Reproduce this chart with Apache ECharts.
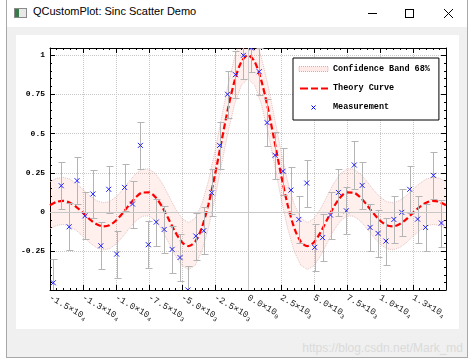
<!DOCTYPE html>
<html><head><meta charset="utf-8">
<script src="https://cdn.jsdelivr.net/npm/echarts@6/dist/echarts.min.js"></script>
<style>
html,body{margin:0;padding:0;width:474px;height:364px;overflow:hidden;background:#fff;}
#win{position:absolute;left:6px;top:0;width:462px;height:358px;box-sizing:border-box;border:1px solid #a8a8a8;border-top:none;background:#f0f0f0;}
#titlebar{position:absolute;left:0;top:0;width:460px;height:27px;background:#fff;}
#title{position:absolute;left:26px;top:5px;font:11px "Liberation Sans",Arial,sans-serif;color:#000;white-space:nowrap;}
#icon{position:absolute;left:7px;top:8px;width:11px;height:8px;border:1px solid #8a8a8a;background:linear-gradient(90deg,#3a7a4a 0,#3a7a4a 35%,#e8e8e8 35%,#e8e8e8 100%);}
#panel{position:absolute;left:16px;top:35px;width:443px;height:294px;background:#fff;}
#chart{position:absolute;left:0;top:0;width:443px;height:294px;}
#wm{position:absolute;right:4px;top:341px;font:12px "Liberation Sans",Arial,sans-serif;color:#dadada;white-space:nowrap;}
svg{position:absolute;}
</style></head>
<body>
<div id="win">
  <div id="titlebar">
    <div id="icon"></div>
    <div id="title">QCustomPlot: Sinc Scatter Demo</div>
    <svg style="left:360px;top:8px" width="12" height="12"><line x1="1" y1="5.5" x2="10" y2="5.5" stroke="#000" stroke-width="1"/></svg>
    <svg style="left:397px;top:8px" width="12" height="12"><rect x="1.5" y="1.5" width="8" height="8" fill="none" stroke="#000" stroke-width="1"/></svg>
    <svg style="left:436px;top:8px" width="12" height="12"><line x1="1" y1="1" x2="10" y2="10" stroke="#000"/><line x1="10" y1="1" x2="1" y2="10" stroke="#000"/></svg>
  </div>
  <div id="wm">https://blog.csdn.net/Mark_md</div>
</div>
<div id="panel"><div id="chart"></div></div>
<script>
// ---- axis ticks / labels ----
const xTickMant = ['-1.5','-1.3','-1.0','-7.5','-5.0','-2.5','0.0','2.5','5.0','7.5','1.0','1.3','1.5'];
const xTickExp  = ['4','4','4','3','3','3','0','3','3','3','4','4','4'];
const yTicks = [-0.25, 0, 0.25, 0.5, 0.75, 1];
const yTickLabels = ['-0.25','0','0.25','0.5','0.75','1'];
const yMinorTicks = [-0.45,-0.4,-0.35,-0.3,-0.2,-0.15,-0.1,-0.05,0.05,0.1,0.15,0.2,0.3,0.35,0.4,0.45,0.55,0.6,0.65,0.7,0.8,0.85,0.9,0.95];

// ---- theory curve and confidence band ----
const xCurve = [-15000,-14500,-14000,-13500,-13000,-12500,-12000,-11500,-11000,-10500,-10000,-9500,-9000,-8500,-8000,-7500,-7000,-6500,-6000,-5500,-5000,-4500,-4000,-3500,-3000,-2500,-2000,-1500,-1000,-500,0,500,1000,1500,2000,2500,3000,3500,4000,4500,5000,5500,6000,6500,7000,7500,8000,8500,9000,9500,10000,10500,11000,11500,12000,12500,13000,13500,14000,14500,15000];
const yCurve = [0.043,0.065,0.071,0.060,0.032,-0.005,-0.045,-0.076,-0.091,-0.084,-0.054,-0.008,0.046,0.094,0.124,0.125,0.094,0.033,-0.047,-0.128,-0.192,-0.217,-0.189,-0.100,0.047,0.239,0.455,0.665,0.841,0.959,1.000,0.959,0.841,0.665,0.455,0.239,0.047,-0.100,-0.189,-0.217,-0.192,-0.128,-0.047,0.033,0.094,0.125,0.124,0.094,0.046,-0.008,-0.054,-0.084,-0.091,-0.076,-0.045,-0.005,0.032,0.060,0.071,0.065,0.043];
const bandUpper = [0.193,0.215,0.221,0.210,0.182,0.145,0.105,0.074,0.059,0.066,0.096,0.142,0.196,0.244,0.274,0.275,0.244,0.183,0.103,0.022,-0.042,-0.067,-0.039,0.050,0.197,0.389,0.605,0.815,0.991,1.109,1.150,1.109,0.991,0.815,0.605,0.389,0.197,0.050,-0.039,-0.067,-0.042,0.022,0.103,0.183,0.244,0.275,0.274,0.244,0.196,0.142,0.096,0.066,0.059,0.074,0.105,0.145,0.182,0.210,0.221,0.215,0.193];
const bandLower = [-0.107,-0.085,-0.079,-0.090,-0.118,-0.155,-0.195,-0.226,-0.241,-0.234,-0.204,-0.158,-0.104,-0.056,-0.026,-0.025,-0.056,-0.117,-0.197,-0.278,-0.342,-0.367,-0.339,-0.250,-0.103,0.089,0.305,0.515,0.691,0.809,0.850,0.809,0.691,0.515,0.305,0.089,-0.103,-0.250,-0.339,-0.367,-0.342,-0.278,-0.197,-0.117,-0.056,-0.025,-0.026,-0.056,-0.104,-0.158,-0.204,-0.234,-0.241,-0.226,-0.195,-0.155,-0.118,-0.090,-0.079,-0.085,-0.107];

// ---- measurements ----
const xMeas = [-14750,-14150,-13550,-12950,-12350,-11750,-11150,-10550,-9950,-9350,-8750,-8150,-7550,-6950,-6350,-5750,-5150,-4550,-3950,-3350,-2750,-2150,-1550,-950,-350,250,850,1450,2050,2650,3250,3850,4450,5050,5650,6250,6850,7450,8050,8650,9250,9850,10450,11050,11650,12250,12850,13450,14050,14650];
const yMeas = [-0.451,0.168,-0.094,0.200,-0.024,0.115,-0.215,0.145,-0.268,0.157,0.051,0.425,-0.208,-0.064,-0.111,-0.238,-0.290,-0.497,-0.153,-0.119,0.123,0.425,0.751,0.876,0.999,1.046,0.895,0.570,0.362,0.260,0.140,-0.047,0.185,-0.225,-0.163,-0.019,0.125,0.008,0.300,0.170,-0.098,-0.136,-0.185,-0.047,-0.002,0.145,-0.045,-0.098,0.234,-0.070];
const yErr = [0.15,0.15,0.15,0.15,0.15,0.15,0.15,0.15,0.15,0.15,0.15,0.15,0.15,0.15,0.15,0.15,0.15,0.15,0.15,0.15,0.15,0.15,0.15,0.15,0.15,0.15,0.15,0.15,0.15,0.15,0.15,0.15,0.15,0.15,0.15,0.15,0.15,0.15,0.15,0.15,0.15,0.15,0.15,0.15,0.15,0.15,0.15,0.15,0.15,0.15];

const X_MIN = -15000, X_MAX = 15000, Y_MIN = -0.497, Y_MAX = 1.046;
const MONO = '"Liberation Mono","DejaVu Sans Mono",monospace';
const GRID_COLOR = '#c8c8c8';

const chart = echarts.init(document.getElementById('chart'), null, {renderer: 'canvas'});

function xAxisDef(pos, showLabels) {
  return {
    type: 'value', position: pos, min: X_MIN, max: X_MAX, interval: 2500,
    axisLine: {show: true, onZero: false, lineStyle: {color: '#000', width: 1}},
    axisTick: {show: true, inside: true, length: 5, lineStyle: {color: '#000'}},
    minorTick: {show: true, splitNumber: 5, length: 2, lineStyle: {color: '#000'}},
    axisLabel: showLabels ? {
      show: true, rotate: -30, margin: 7, showMaxLabel: false, color: '#000',
      fontFamily: MONO, fontSize: 9,
      formatter: function (v) {
        const i = Math.round((v - X_MIN) / 2500);
        return '{m|' + xTickMant[i] + '×10}{e|' + xTickExp[i] + '}';
      },
      rich: {
        m: {fontFamily: MONO, fontSize: 9, color: '#222', lineHeight: 12},
        e: {fontFamily: MONO, fontSize: 6, color: '#222', verticalAlign: 'bottom', lineHeight: 12}
      }
    } : {show: false},
    splitLine: {show: showLabels, lineStyle: {color: GRID_COLOR, type: 'dotted', width: 1}},
    minorSplitLine: {show: false}
  };
}
function yAxisDef(pos, major) {
  return {
    type: 'value', position: pos, min: Y_MIN, max: Y_MAX,
    axisLine: {show: major, onZero: false, lineStyle: {color: '#000', width: 1}},
    axisTick: {show: true, inside: true, length: major ? 5 : 2, customValues: major ? yTicks : yMinorTicks, lineStyle: {color: '#000'}},
    axisLabel: (major && pos === 'left') ? {
      show: true, customValues: yTicks, margin: 5, color: '#000', fontFamily: MONO, fontSize: 8, fontWeight: 'bold',
      formatter: function (v) {
        for (let i = 0; i < yTicks.length; i++) if (Math.abs(yTicks[i] - v) < 1e-9) return yTickLabels[i];
        return '';
      }
    } : {show: false},
    splitLine: {show: major && pos === 'left', lineStyle: {color: GRID_COLOR, type: 'dotted', width: 1}},
    minorTick: {show: false}
  };
}

const option = {
  animation: false,
  backgroundColor: '#fff',
  grid: {left: 34, top: 13, right: 13, bottom: 39, containLabel: false, outerBoundsMode: 'none'},
  xAxis: [xAxisDef('bottom', true), xAxisDef('top', false)],
  yAxis: [yAxisDef('left', true), yAxisDef('left', false), yAxisDef('right', true), yAxisDef('right', false)],
  legend: {
    orient: 'vertical', left: 277, top: 23,
    itemWidth: 29, itemHeight: 10, itemGap: 7.5,
    padding: [5, 9, 8, 5],
    borderColor: '#000', borderWidth: 1, backgroundColor: '#fff',
    selectedMode: false,
    textStyle: {fontFamily: MONO, fontSize: 8.5, fontWeight: 'bold', color: '#000'},
    data: [
      {name: 'Confidence Band 68%', icon: 'path://M0,0M29,10M0,3L29,3L29,8L0,8Z',
       itemStyle: {color: 'rgba(255,50,30,0.10)', borderColor: 'rgba(220,160,160,0.9)', borderWidth: 1, borderType: 'dotted'}},
      {name: 'Theory Curve', icon: 'path://M0,0M29,10M1,6L9,6M12,6L19,6M22,6L29,6',
       itemStyle: {color: 'transparent', borderColor: '#ff0000', borderWidth: 2}},
      {name: 'Measurement', icon: 'path://M0,0M29,10M12.5,4L16.5,8M16.5,4L12.5,8',
       itemStyle: {color: 'transparent', borderColor: '#0000ff', borderWidth: 1}}
    ]
  },
  series: [
    {
      type: 'line', name: 'zero-lines', data: [], silent: true, z: 1,
      markLine: {silent: true, symbol: 'none', label: {show: false}, animation: false,
        lineStyle: {color: GRID_COLOR, type: 'solid', width: 1},
        data: [{xAxis: 0}, {yAxis: 0}]}
    },
    {
      type: 'custom', name: 'Confidence Band 68%', clip: true, silent: true, z: 2,
      data: [[0, 0]],
      renderItem: function (params, api) {
        const up = xCurve.map((x, i) => api.coord([x, bandUpper[i]]));
        const lo = xCurve.map((x, i) => api.coord([x, bandLower[i]]));
        const ls = {fill: 'none', stroke: 'rgba(220,185,185,0.85)', lineWidth: 1, lineDash: [1, 1]};
        return {type: 'group', children: [
          {type: 'polygon', shape: {points: up.concat(lo.slice().reverse())}, style: {fill: 'rgba(255,50,30,0.08)'}},
          {type: 'polyline', shape: {points: up}, style: ls},
          {type: 'polyline', shape: {points: lo}, style: ls}
        ]};
      }
    },
    {
      type: 'line', name: 'Theory Curve', z: 3, silent: true,
      data: xCurve.map((x, i) => [x, yCurve[i]]),
      symbol: 'none', showSymbol: false, smooth: 0.3,
      itemStyle: {color: '#ff0000'},
      lineStyle: {color: '#ff0000', width: 2.2, type: [6, 3]}
    },
    {
      type: 'custom', name: 'Measurement', clip: true, silent: true, z: 4,
      itemStyle: {color: '#0000ff'},
      data: xMeas.map((x, i) => [x, yMeas[i], yErr[i]]),
      encode: {x: 0, y: 1},
      renderItem: function (params, api) {
        const x = api.value(0), y = api.value(1), e = api.value(2);
        const c = api.coord([x, y]);
        const t = api.coord([x, y + e]);
        const b = api.coord([x, y - e]);
        const px = Math.round(c[0]) + 0.5;
        const ty = Math.round(t[1]) + 0.5, by = Math.round(b[1]) + 0.5;
        const cap = 3, r = 2.5;
        const eb = {stroke: '#b4b4b4', lineWidth: 1};
        const cs = {stroke: '#2020ff', lineWidth: 1};
        return {type: 'group', children: [
          {type: 'line', shape: {x1: px, y1: ty, x2: px, y2: by}, style: eb},
          {type: 'line', shape: {x1: px - cap, y1: ty, x2: px + cap + 1, y2: ty}, style: eb},
          {type: 'line', shape: {x1: px - cap, y1: by, x2: px + cap + 1, y2: by}, style: eb},
          {type: 'line', shape: {x1: c[0] - r, y1: c[1] - r, x2: c[0] + r, y2: c[1] + r}, style: cs},
          {type: 'line', shape: {x1: c[0] + r, y1: c[1] - r, x2: c[0] - r, y2: c[1] + r}, style: cs}
        ]};
      }
    }
  ]
};
chart.setOption(option);
</script>
</body></html>
